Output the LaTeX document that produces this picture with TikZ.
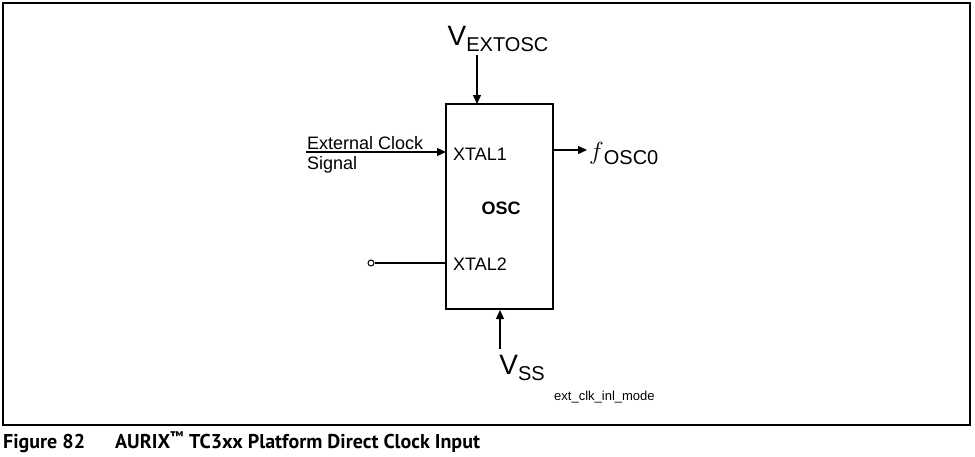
\documentclass[tikz,border=0pt]{standalone}
\usepackage{fontspec}
\setmainfont{Liberation Sans}
\newfontfamily\capfont{PT Sans}
\usetikzlibrary{arrows.meta}
\begin{document}
\begin{tikzpicture}[x=1pt,y=-1pt,
  wire/.style={line width=1.3pt},
  arr/.style={wire,-{Triangle[length=9pt,width=8pt]}},
  lbl/.style={inner sep=0pt,font=\fontsize{18}{18}\selectfont}]
\useasboundingbox (0,0) rectangle (975,456);
\draw[line width=1.5pt] (3,3) rectangle (970,425);
\node[draw,line width=2.5pt,minimum width=107pt,minimum height=205pt,inner sep=0pt] (osc) at (499.5,206.5) {};
\node[lbl,font=\fontsize{18}{18}\selectfont\bfseries] (osct) at (501,208) {OSC};
\coordinate (x1) at (446,152);
\coordinate (x2) at (446,263);
\node[lbl,anchor=west] (xt1) at (453,154) {XTAL1};
\node[lbl,anchor=west] (xt2) at (453,264) {XTAL2};
\coordinate (ein) at (306,152);
\draw[arr] (ein) -- (x1);
\node[lbl,anchor=south west] (ext) at (307,150) {External Clock};
\node[lbl,anchor=north west] (sig) at (307,156) {Signal};
\node[draw,circle,line width=1pt,minimum size=6pt,inner sep=0pt] (c2) at (371,263) {};
\draw[wire] (c2) -- (x2);
\coordinate (fo) at (553,150);
\coordinate (fe) at (587,150);
\node[anchor=west,inner sep=0pt] (fosc) at (589,153) {\fontsize{28}{28}\selectfont$f$\fontsize{20}{20}\selectfont\raisebox{-5pt}{OSC0}};
\draw[arr] (fo) -- (fe);
\node[anchor=south,inner sep=0pt] (vext) at (498,52) {\fontsize{28}{28}\selectfont V\fontsize{20}{20}\selectfont\raisebox{-6pt}{EXTOSC}};
\draw[arr] (477,55) -- (477,104);
\node[anchor=north,inner sep=0pt] (vss) at (522,355) {\fontsize{28}{28}\selectfont V\fontsize{20}{20}\selectfont\raisebox{-6pt}{SS}};
\draw[arr] (500,349) -- (500,310);
\node[anchor=west,inner sep=0pt,font=\fontsize{13}{13}\selectfont] (tag) at (554,397) {ext\_clk\_inl\_mode};
\node[anchor=west,inner sep=0pt,font=\capfont\bfseries\fontsize{20}{20}\selectfont] (cap) at (3,442) {Figure 82\hspace{30pt}AURIX\textsuperscript{™} TC3xx Platform Direct Clock Input};
\end{tikzpicture}
\end{document}
